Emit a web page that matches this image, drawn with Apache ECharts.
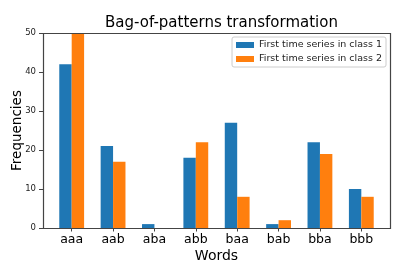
<!DOCTYPE html>
<html><head><meta charset="utf-8">
<script src="https://cdn.jsdelivr.net/npm/echarts@6/dist/echarts.min.js"></script>
<style>html,body{margin:0;padding:0;background:#fff}#c{width:400px;height:280px}</style>
</head><body><div id="c"></div>
<script>
const categories = ['aaa','aab','aba','abb','baa','bab','bba','bbb'];
const class1 = [42, 21, 1, 18, 27, 1, 22, 10];
const class2 = [50, 17, 0, 22, 8, 2, 19, 8];
const yTicks = [0, 10, 20, 30, 40, 50];
const seriesNames = ['First time series in class 1', 'First time series in class 2'];

const F = 'DejaVu Sans';
const chart = echarts.init(document.getElementById('c'), null, {renderer: 'canvas'});
chart.setOption({
  animation: false,
  backgroundColor: '#fff',
  textStyle: {fontFamily: F},
  title: {text: 'Bag-of-patterns transformation', left: 216.5, textAlign: 'center', top: 11,
    textStyle: {fontFamily: F, fontSize: 15, fontWeight: 'normal', color: '#000'}},
  legend: {orient: 'vertical', right: 14, top: 37, padding: [3, 4], itemGap: 4,
    itemWidth: 18, itemHeight: 6, icon: 'rect',
    borderColor: '#ccc', borderWidth: 1, borderRadius: 2, backgroundColor: '#fff',
    textStyle: {fontFamily: F, fontSize: 9.5, color: '#222'},
    data: seriesNames},
  grid: {left: 51, right: 18, top: 33, bottom: 52, containLabel: false, outerBoundsMode: 'none'},
  graphic: [{type: 'rect', shape: {x: 43.5, y: 33.5, width: 347, height: 195}, z: 10, silent: true,
    style: {fill: 'none', stroke: '#444', lineWidth: 1.2}}],
  xAxis: {type: 'category', data: categories, name: 'Words', nameLocation: 'middle', nameGap: 21,
    nameMoveOverlap: false,
    nameTextStyle: {fontFamily: F, fontSize: 14, color: '#000'},
    axisLine: {show: false},
    axisTick: {show: true, alignWithLabel: true, length: 3.5, lineStyle: {color: '#444'}},
    axisLabel: {fontFamily: F, fontSize: 12.5, color: '#000', margin: 5}},
  yAxis: {type: 'value', min: 0, max: 50, interval: 10, offset: 8,
    name: 'Frequencies', nameLocation: 'middle', nameGap: 19, nameMoveOverlap: false,
    nameTextStyle: {fontFamily: F, fontSize: 13.5, color: '#000'},
    axisLine: {show: false},
    axisTick: {show: true, length: 4, lineStyle: {color: '#444'}},
    splitLine: {show: false},
    axisLabel: {fontFamily: F, fontSize: 8.5, color: '#222', margin: 7,
      formatter: v => yTicks.includes(v) ? String(v) : ''}},
  series: [
    {name: seriesNames[0], type: 'bar', data: class1, barWidth: '30%', barGap: '0%',
      itemStyle: {color: '#1f77b4'}},
    {name: seriesNames[1], type: 'bar', data: class2, barWidth: '30%', barGap: '0%',
      itemStyle: {color: '#ff7f0e'}}
  ]
});
</script></body></html>
